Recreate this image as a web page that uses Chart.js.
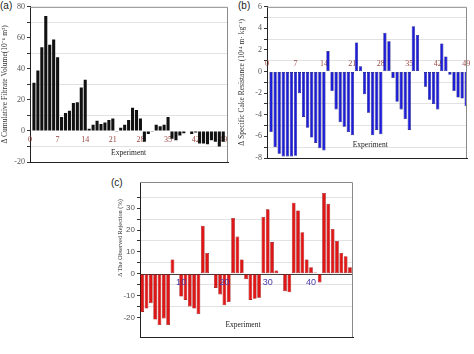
<!DOCTYPE html>
<html>
<head>
<meta charset="utf-8">
<script src="https://cdn.jsdelivr.net/npm/chart.js@4.4.0/dist/chart.umd.min.js"></script>
<style>
  html, body { margin: 0; padding: 0; background: #fff; }
  body { width: 474px; height: 354px; position: relative; overflow: hidden; font-family: "Liberation Sans", Arial, sans-serif; }
  .panel { position: absolute; }
  .tag { position: absolute; font-size: 10px; color: #222; }
  .ytitle { position: absolute; font-family: "Liberation Serif", serif; font-size: 6.3px; line-height: 8px; color: #333; white-space: nowrap; transform: rotate(-90deg); transform-origin: center center; }
</style>
</head>
<body>
<div class="tag" style="left:0px;top:0px;">(a)</div>
<div class="tag" style="left:238px;top:0px;">(b)</div>
<div class="tag" style="left:111px;top:177px;">(c)</div>
<div class="panel" style="left:0px;top:0px;width:240px;height:180px;"><canvas id="chartA"></canvas></div>
<div class="panel" style="left:237px;top:0px;width:237px;height:180px;"><canvas id="chartB"></canvas></div>
<div class="panel" style="left:105px;top:175px;width:260px;height:179px;"><canvas id="chartC"></canvas></div>
<div class="ytitle" id="titleC" style="left:70px;top:234px;width:100px;height:8px;text-align:center;">Δ The Observed Rejection (%)</div>
<script>
// experiments 1..49 (x positions)
const experiments = Array.from({ length: 49 }, (_, i) => i + 1);

// (a) cumulative filtrate volume, 10^-6 m3
const filtrateVolume = [
  31, 39, 54, 74, 55.5, 59, 47.5,
  9, 11.5, 13, 18, 18.5, 28, 33,
  1.5, 4, 6.5, 4.5, 5.5, 7, 8,
  -0.5, 2, 4, 7, 15, 13.5, 8,
  -7, -2, -0.5, 4, 3, 4, 9,
  -5, -6, -3, -1.5, -0.3, -2, -1,
  -8, -8, -8.5, -6, -7, -10, -7
];

// (b) specific cake resistance, 10^14 m/kg
const cakeResistance = [
  -5.6, -7.0, -7.6, -7.85, -7.85, -7.85, -7.8,
  -2.0, -4.2, -5.2, -6.1, -6.6, -7.1, -7.3,
  1.9, -1.8, -3.5, -4.7, -5.1, -5.6, -5.9,
  2.7, 0.5, -2.1, -3.8, -5.9, -5.4, -5.8,
  3.6, 2.8, -0.6, -2.8, -3.5, -4.4, -5.4,
  4.2, 3.4, 0, -1.4, -2.6, -3.0, -3.5,
  2.6, 1.4, -0.3, -1.8, -2.4, -2.5, -3.2
];

// (c) observed rejection, %
const observedRejection = [
  -17.5, -16, -13.5, -21, -23.5, -20.5, -23.5,
  6.5, -0.5, -10.5, -12, -15, -16, -18.5,
  22, 9.5, -0.5, -6.5, -9.5, -14.5, -13,
  25.5, 17, 6.5, -2.5, -12, -11.5, -11,
  26, 29.5, 14.5, 1.5, -0.5, -8, -8.5,
  32.5, 29, 19, 6.5, 3, 0.5, -4,
  37, 32, 20.5, 15, 9.5, 8, 3
];

const xTicksAB = [0, 7, 14, 21, 28, 35, 42, 49];
const xTicksC = [10, 20, 30, 40];
const yTicksA = [-20, 0, 20, 40, 60, 80];
const yTicksB = [-8, -6, -4, -2, 0, 2, 4, 6];
const yTicksC = [-20, -10, 0, 10, 20, 30, 40];

const serif = '"Liberation Serif", "Times New Roman", serif';
const sans = '"Liberation Sans", Arial, sans-serif';

function zeroTicks(chart, o) {
  const { ctx, scales: { x, y } } = chart;
  const y0 = y.getPixelForValue(0);
  ctx.save();
  ctx.fillStyle = o.tickColor;
  ctx.font = o.tickFont;
  ctx.textAlign = 'center';
  ctx.textBaseline = o.tickDy > 0 ? 'top' : 'bottom';
  o.ticks.forEach(t => ctx.fillText(String(t), x.getPixelForValue(t), y0 + o.tickDy));
  ctx.restore();
}

// frame, tick labels on the zero line, "Experiment" label
const panelDeco = {
  id: 'panelDeco',
  beforeDatasetsDraw(chart, args, o) {
    const { ctx, chartArea: a, scales: { x, y } } = chart;
    const y0 = y.getPixelForValue(0);
    ctx.save();
    if (o.zeroColor) {
      ctx.strokeStyle = o.zeroColor;
      ctx.lineWidth = 1;
      ctx.beginPath();
      ctx.moveTo(a.left, Math.round(y0) + 0.5);
      ctx.lineTo(a.right, Math.round(y0) + 0.5);
      ctx.stroke();
    }
    ctx.fillStyle = '#222';
    ctx.font = o.labelFont;
    ctx.textAlign = 'center';
    ctx.textBaseline = 'middle';
    ctx.fillText('Experiment', x.getPixelForValue(o.labelAt[0]), y.getPixelForValue(o.labelAt[1]));
    ctx.restore();
    if (!o.ticksOnTop) zeroTicks(chart, o);
  },
  afterDatasetsDraw(chart, args, o) {
    if (o.ticksOnTop) zeroTicks(chart, o);
  },
  afterDraw(chart, args, o) {
    const { ctx, chartArea: a } = chart;
    ctx.save();
    ctx.strokeStyle = o.frameColor;
    ctx.lineWidth = 1;
    ctx.beginPath();
    ctx.moveTo(a.left, a.top + 0.5);
    ctx.lineTo(a.right - 0.5, a.top + 0.5);
    ctx.lineTo(a.right - 0.5, a.bottom);
    ctx.stroke();
    ctx.restore();
  }
};

function makeChart(id, opt) {
  const isMajor = v => opt.yMajor.includes(v);
  const isMinor = v => !isMajor(v) && Math.abs(v % opt.minorStep) < 1e-9 && Math.abs((v / opt.minorStep) % 2) === 1;
  return new Chart(document.getElementById(id), {
    type: 'bar',
    data: {
      labels: experiments,
      datasets: [{
        data: opt.values,
        backgroundColor: opt.fill,
        borderColor: opt.border,
        borderWidth: opt.borderWidth,
        borderSkipped: false,
        barPercentage: opt.barPct,
        categoryPercentage: 1
      }]
    },
    options: {
      responsive: true,
      maintainAspectRatio: false,
      animation: false,
      layout: { padding: opt.padding },
      plugins: {
        legend: { display: false },
        tooltip: { enabled: false },
        panelDeco: opt.deco
      },
      scales: {
        x: {
          type: 'linear',
          offset: false,
          min: opt.xMin,
          max: opt.xMax,
          grid: { display: false },
          ticks: { display: false },
          border: { display: true, color: '#222', width: 1 },
          afterFit: s => { s.height = 0; }
        },
        y: {
          min: opt.yMin,
          max: opt.yMax,
          ticks: {
            stepSize: opt.minorStep,
            autoSkip: false,
            color: opt.yTickColor,
            font: { family: opt.yTickFamily, size: 8 },
            padding: 2,
            callback: v => isMajor(v) ? String(v) : ''
          },
          grid: {
            drawOnChartArea: true,
            tickLength: 3,
            color: c => isMinor(c.tick.value) ? '#e2e2e2' : 'rgba(0,0,0,0)',
            tickColor: c => (isMajor(c.tick.value) || isMinor(c.tick.value)) ? '#333' : 'rgba(0,0,0,0)'
          },
          border: { display: true, color: '#222', width: 1 },
          title: opt.yTitle ? {
            display: true,
            text: opt.yTitle,
            color: '#333',
            font: { family: serif, size: 7.5 },
            padding: { top: 1, bottom: 0 }
          } : { display: false },
          afterFit: s => { s.width = opt.yWidth; }
        }
      }
    },
    plugins: [panelDeco]
  });
}

makeChart('chartA', {
  values: filtrateVolume,
  fill: '#111111', border: '#000000', borderWidth: 0, barPct: 0.78,
  xMin: 0, xMax: 50.2,
  yMin: -20, yMax: 80, minorStep: 10, yMajor: yTicksA,
  yTickColor: '#555', yTickFamily: serif,
  yTitle: 'Δ Cumulative Filtrate Volume(10⁻⁶ m³)',
  yWidth: 30,
  padding: { left: 0, top: 6, right: 12, bottom: 18 },
  deco: {
    ticks: xTicksAB, tickColor: '#9a4a44', tickFont: '8px ' + serif, tickDy: 5, ticksOnTop: false,
    labelFont: '7.5px ' + serif, labelAt: [25, -14],
    frameColor: '#8a8a8a', zeroColor: null
  }
});

makeChart('chartB', {
  values: cakeResistance,
  fill: '#1c1cd6', border: '#05057a', borderWidth: 0.6, barPct: 0.8,
  xMin: 0, xMax: 49.2,
  yMin: -8, yMax: 6, minorStep: 1, yMajor: yTicksB,
  yTickColor: '#555', yTickFamily: serif,
  yTitle: 'Δ Specific Cake Resistance (10¹⁴ m· kg⁻¹)',
  yWidth: 30,
  padding: { left: 0, top: 6, right: 7, bottom: 22 },
  deco: {
    ticks: xTicksAB, tickColor: '#9a4a44', tickFont: '8px ' + serif, tickDy: -4, ticksOnTop: false,
    labelFont: '7.5px ' + serif, labelAt: [25.4, -6.8],
    frameColor: '#8a8a8a', zeroColor: null
  }
});

makeChart('chartC', {
  values: observedRejection,
  fill: '#e01515', border: '#8e0000', borderWidth: 0.6, barPct: 0.86,
  xMin: 0.5, xMax: 49.7,
  yMin: -29, yMax: 42, minorStep: 5, yMajor: yTicksC,
  yTickColor: '#555', yTickFamily: sans,
  yTitle: null,
  yWidth: 35,
  padding: { left: 0, top: 7, right: 12, bottom: 17 },
  deco: {
    ticks: xTicksC, tickColor: '#4a3aa8', tickFont: '9px ' + sans, tickDy: 4, ticksOnTop: true,
    labelFont: '7.5px ' + serif, labelAt: [24.3, -23.6],
    frameColor: '#8a8a8a', zeroColor: '#444'
  }
});
</script>
</body>
</html>
